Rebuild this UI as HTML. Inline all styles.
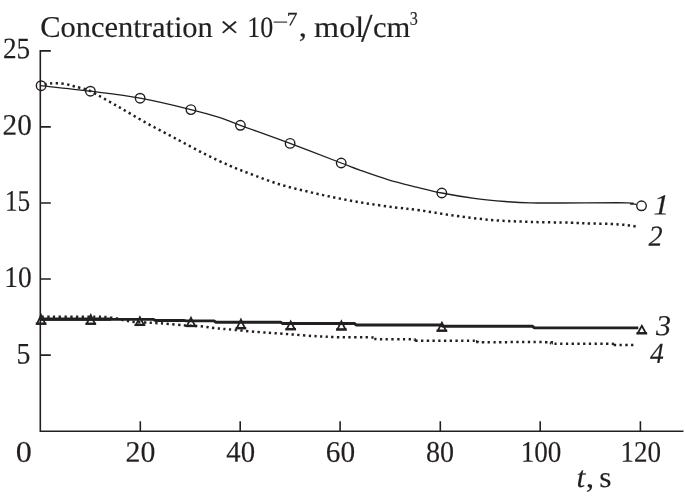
<!DOCTYPE html>
<html><head><meta charset="utf-8">
<style>
html,body{margin:0;padding:0;background:#fff;}
svg{display:block;}
text{font-family:"Liberation Serif",serif;fill:#231f20;stroke:#231f20;stroke-width:0.15px;}
</style></head>
<body>
<svg width="685" height="498" viewBox="0 0 685 498">
<rect width="685" height="498" fill="#fff"/>
<g stroke="#231f20" stroke-width="1.6" fill="none">
<path d="M40.3 50.050000000000004V431.2H683.5"/>
<path d="M40.3 50.85H50.8M40.3 126.9H50.8M40.3 202.95H50.8M40.3 279.0H50.8M40.3 355.1H50.8"/>
<path d="M140.3 431.2V421.3M240.2 431.2V421.3M340.1 431.2V421.3M440.3 431.2V421.3M540.2 431.2V421.3M640.4 431.2V421.3"/>
</g>
<g stroke="#231f20" fill="none" stroke-width="2.5" stroke-dasharray="2.3 3.4">
<path d="M44.5 84.6C45.4 84.4 47.9 83.6 50.0 83.4C52.1 83.2 54.5 83.1 57.0 83.2C59.5 83.3 62.3 83.4 65.0 83.9C67.7 84.4 70.5 85.3 73.0 86.0C75.5 86.7 77.1 87.0 80.0 87.9C82.9 88.8 84.1 88.1 90.4 91.2C96.7 94.3 108.2 101.0 117.6 106.3C127.0 111.6 137.1 117.8 146.8 123.2C156.5 128.6 166.3 133.5 176.0 138.7C185.7 143.9 196.2 149.7 205.2 154.2C214.2 158.7 222.7 162.6 230.0 165.8C237.3 169.0 241.1 170.4 249.2 173.4C257.3 176.4 268.7 181.0 278.4 184.0C288.1 187.0 297.9 189.3 307.6 191.6C317.3 193.9 327.1 196.1 336.8 198.0C346.5 199.9 356.3 201.7 366.0 203.3C375.7 204.9 386.2 206.2 395.2 207.4C404.2 208.6 410.9 209.0 420.0 210.3C429.1 211.6 438.4 213.4 450.1 215.0C461.8 216.6 476.9 218.8 490.3 219.9C503.7 221.1 517.0 221.4 530.4 221.9C543.8 222.4 560.5 222.4 570.6 222.7C580.7 223.0 584.0 223.3 590.7 223.5C597.4 223.7 604.7 223.6 610.7 223.9C616.7 224.2 622.2 224.6 626.8 225.1C631.4 225.6 636.3 226.7 638.2 227.0"/>
<path d="M41.7 316.7C49.4 316.7 76.6 316.7 88.0 316.8C99.4 316.9 102.8 316.6 110.0 317.4C117.2 318.2 124.1 320.7 131.0 321.6C137.9 322.5 145.6 322.5 151.3 322.8C157.0 323.1 159.4 323.2 165.0 323.6C170.6 324.0 179.2 325.0 185.0 325.4C190.8 325.8 195.2 325.8 200.0 326.2C204.8 326.6 209.3 327.5 214.0 328.0C218.7 328.5 220.8 328.7 228.0 329.3C235.2 329.9 248.3 331.2 257.0 331.9C265.7 332.6 272.8 333.0 280.0 333.5C287.2 334.0 293.6 334.6 300.0 335.1C306.4 335.6 312.7 336.0 318.5 336.3C324.3 336.6 326.1 336.9 335.0 337.1C343.9 337.3 365.2 337.1 372.0 337.4C378.8 337.7 369.2 338.8 376.0 339.1C382.8 339.4 406.2 339.0 413.0 339.3C419.8 339.6 406.7 340.4 417.0 340.7C427.3 340.9 464.7 340.6 475.0 340.8C485.3 341.0 466.5 341.9 479.0 342.1C491.5 342.3 537.5 341.9 550.0 342.2C562.5 342.5 544.0 343.4 554.0 343.7C564.0 344.0 600.0 343.6 610.0 343.8C620.0 344.0 609.6 344.8 614.0 345.0C618.4 345.2 632.5 345.0 636.2 345.0"/>
</g>
<path d="M41.0 85.7C49.2 86.6 73.9 89.1 90.4 91.2C106.9 93.3 123.3 95.1 140.1 98.2C156.8 101.3 177.6 106.3 190.9 109.6C204.2 112.8 211.8 115.1 220.0 117.7C228.2 120.3 228.7 121.0 240.4 125.3C252.1 129.6 273.3 137.1 290.1 143.4C306.9 149.7 329.7 158.6 341.2 163.0C352.7 167.4 351.3 167.1 359.2 169.9C367.1 172.7 378.7 176.9 388.4 179.8C398.1 182.7 408.7 185.1 417.6 187.3C426.5 189.5 432.1 191.1 441.8 193.0C451.5 194.9 465.5 197.2 476.0 198.6C486.5 200.0 496.0 200.8 505.0 201.5C514.0 202.2 520.8 202.6 530.0 202.8C539.2 203.1 543.8 203.0 560.0 203.0C576.2 203.0 615.4 202.6 627.2 202.8C639.0 203.0 629.2 203.8 630.7 204.0C632.2 204.2 635.5 204.2 636.5 204.3" stroke="#231f20" stroke-width="1.3" fill="none"/>
<g stroke="#231f20" stroke-width="1.4" fill="none">
<circle cx="41.1" cy="85.7" r="4.75"/>
<circle cx="90.4" cy="91.2" r="4.75"/>
<circle cx="140.1" cy="98.2" r="4.75"/>
<circle cx="190.9" cy="109.6" r="4.75"/>
<circle cx="240.4" cy="125.3" r="4.75"/>
<circle cx="290.1" cy="143.4" r="4.75"/>
<circle cx="341.2" cy="163" r="4.75"/>
<circle cx="441.8" cy="193" r="4.75"/>
<circle cx="641.5" cy="205.8" r="4.75"/>
</g>
<g stroke="#231f20" stroke-width="1.8" fill="none">
<path d="M41.1 315.2L45.2 323.8H37.0Z"/><path d="M35.8 323.6H46.4" stroke-width="2.3"/>
<path d="M90.8 315.2L94.9 323.9H86.7Z"/><path d="M85.5 323.7H96.1" stroke-width="2.3"/>
<path d="M139.9 317.1L144.0 325.1H135.8Z"/><path d="M134.6 324.9H145.2" stroke-width="2.3"/>
<path d="M191.0 317.9L195.1 326.2H186.9Z"/><path d="M185.7 326.0H196.3" stroke-width="2.3"/>
<path d="M240.9 319.7L245.0 328.3H236.8Z"/><path d="M235.6 328.1H246.2" stroke-width="2.3"/>
<path d="M290.7 321.4L294.8 329.3H286.6Z"/><path d="M285.4 329.1H296.0" stroke-width="2.3"/>
<path d="M341.4 321.3L345.5 329.6H337.3Z"/><path d="M336.1 329.4H346.7" stroke-width="2.3"/>
<path d="M441.9 322.7L446.0 330.8H437.8Z"/><path d="M436.6 330.6H447.2" stroke-width="2.3"/>
<path d="M641.8 325.8L645.9 333.4H637.7Z"/><path d="M636.5 333.2H647.1" stroke-width="2.3"/>
</g>
<path d="M41.0 319.4L153.5 319.4L155.5 320.5L184.0 320.5L186.0 320.9L214.0 320.9L216.0 322.3L280.6 322.3L282.6 323.5L354.4 323.5L356.4 325.0L440.5 325.0L443.0 326.3L532.4 326.3L534.4 327.9L638.3 327.9" stroke="#231f20" stroke-width="2.9" fill="none"/>
<path d="M41 319.1H111" stroke="#231f20" stroke-width="3.4" fill="none"/>
<g>
<text transform="translate(40.19 36.80) rotate(0.05)"><tspan id="Conc" x="0.00" y="0.00" font-size="29.7" textLength="172.63" lengthAdjust="spacingAndGlyphs">Concentration</tspan> <tspan id="times" x="179.26" y="-0.06" font-size="29.7" textLength="19.76" lengthAdjust="spacingAndGlyphs">×</tspan> <tspan id="t10" x="207.12" y="0.02" font-size="29.7" textLength="25.97" lengthAdjust="spacingAndGlyphs">10</tspan><tspan id="minus" x="232.35" y="-8.60" font-size="19.2" textLength="15.89" lengthAdjust="spacingAndGlyphs">−</tspan><tspan id="sup7" x="246.54" y="-11.42" font-size="19.2" textLength="10.80" lengthAdjust="spacingAndGlyphs">7</tspan><tspan id="comma" x="258.48" y="-0.43" font-size="29.7" textLength="8.19" lengthAdjust="spacingAndGlyphs">,</tspan> <tspan id="mol" x="273.93" y="-0.04" font-size="29.7" textLength="50.16" lengthAdjust="spacingAndGlyphs">mol</tspan><tspan id="slash" x="320.93" y="4.12" font-size="40" textLength="11.49" lengthAdjust="spacingAndGlyphs">/</tspan><tspan id="cm" x="332.80" y="-0.09" font-size="29.7" textLength="37.34" lengthAdjust="spacingAndGlyphs">cm</tspan><tspan id="sup3" x="369.45" y="-12.32" font-size="19.2" textLength="8.09" lengthAdjust="spacingAndGlyphs">3</tspan></text>
<text id="y25" transform="translate(2.92 58.20) rotate(0.05)" font-size="29.8" textLength="27.21" lengthAdjust="spacingAndGlyphs">25</text>
<text id="y20" transform="translate(2.60 134.80) rotate(0.05)" font-size="29.8" textLength="29.20" lengthAdjust="spacingAndGlyphs">20</text>
<text id="y15" transform="translate(4.92 210.80) rotate(0.05)" font-size="29.8" textLength="25.27" lengthAdjust="spacingAndGlyphs">15</text>
<text id="y10" transform="translate(4.23 287.10) rotate(0.05)" font-size="29.8" textLength="27.51" lengthAdjust="spacingAndGlyphs">10</text>
<text id="y5" transform="translate(16.50 363.50) rotate(0.05)" font-size="29.8" textLength="13.94" lengthAdjust="spacingAndGlyphs">5</text>
<text id="x0" transform="translate(15.64 461.80) rotate(0.05)" font-size="29.8" textLength="16.08" lengthAdjust="spacingAndGlyphs">0</text>
<text id="x20" transform="translate(125.46 461.80) rotate(0.05)" font-size="29.8" textLength="29.86" lengthAdjust="spacingAndGlyphs">20</text>
<text id="x40" transform="translate(226.32 461.80) rotate(0.05)" font-size="29.8" textLength="28.80" lengthAdjust="spacingAndGlyphs">40</text>
<text id="x60" transform="translate(325.77 461.80) rotate(0.05)" font-size="29.8" textLength="29.35" lengthAdjust="spacingAndGlyphs">60</text>
<text id="x80" transform="translate(426.06 461.80) rotate(0.05)" font-size="29.8" textLength="28.09" lengthAdjust="spacingAndGlyphs">80</text>
<text id="x100" transform="translate(520.74 461.80) rotate(0.05)" font-size="29.8" textLength="40.69" lengthAdjust="spacingAndGlyphs">100</text>
<text id="x120" transform="translate(620.52 461.80) rotate(0.05)" font-size="29.8" textLength="40.61" lengthAdjust="spacingAndGlyphs">120</text>
<text transform="translate(576.55 487.00) rotate(0.05)"><tspan id="tt" x="0.00" y="0.00" font-size="29.7" font-style="italic" textLength="8.71" lengthAdjust="spacingAndGlyphs">t</tspan><tspan id="tcomma" x="9.15" y="0.19" font-size="29.7" textLength="8.42" lengthAdjust="spacingAndGlyphs">,</tspan> <tspan id="ts" x="22.74" y="-0.02" font-size="29.7" textLength="12.23" lengthAdjust="spacingAndGlyphs">s</tspan></text>
<text id="l1" transform="translate(653.22 214.60) rotate(0.05)" font-size="29.0" font-style="italic" textLength="16.14" lengthAdjust="spacingAndGlyphs">1</text>
<text id="l2" transform="translate(648.58 245.70) rotate(0.05)" font-size="29.0" font-style="italic" textLength="14.07" lengthAdjust="spacingAndGlyphs">2</text>
<text id="l3" transform="translate(655.97 335.30) rotate(0.05)" font-size="29.0" font-style="italic" textLength="14.98" lengthAdjust="spacingAndGlyphs">3</text>
<text id="l4" transform="translate(649.95 362.90) rotate(0.05)" font-size="29.0" font-style="italic" textLength="13.77" lengthAdjust="spacingAndGlyphs">4</text>
</g>
</svg>
</body></html>
